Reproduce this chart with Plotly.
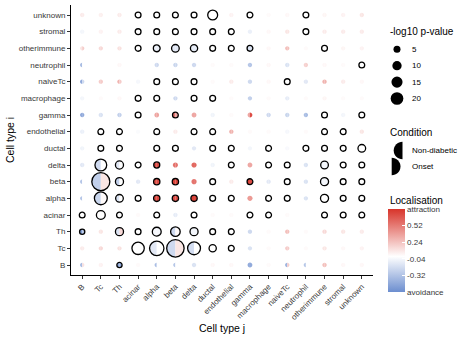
import math
import plotly.graph_objects as go
from plotly.colors import sample_colorscale

# ---------------- data ----------------
CELL_TYPES = ["B", "Tc", "Th", "acinar", "alpha", "beta", "delta", "ductal",
              "endothelial", "gamma", "macrophage", "naiveTc", "neutrophil",
              "otherimmune", "stromal", "unknown"]
ROWS_TOP_DOWN = list(reversed(CELL_TYPES))

# -log10 p-value per cell (rows top->bottom: unknown ... B ; columns B ... unknown)
PVAL = [
    [1, 1, 1, 5, 5, 5, 5, 15, 1, 5, 1, 1, 5, 1, 1, 1],        # unknown
    [1, 1, 1, 5, 5, 5, 5, 5, 5, 1, 1, 1, 5, 1, 1, 1],         # stromal
    [1, 1, 1, 5, 7, 9, 8, 5, 5, 5, 1, 1, 1, 5, 1, 1],         # otherimmune
    [1, 0.5, 1, 0.5, 1, 1, 1, 1, 1, 1, 1, 1, 1, 1, 1, 5],     # neutrophil
    [1, 1, 1, 1, 5, 5, 5, 1, 1, 1, 1, 5, 1, 1, 1, 1],         # naiveTc
    [1, 1, 1, 5, 5, 1, 5, 5, 1, 1, 1, 1, 1, 1, 1, 1],         # macrophage
    [1, 1, 1, 5, 1.5, 5, 1.5, 1, 1, 1.5, 1, 1, 1, 5, 1, 5],   # gamma
    [1, 5, 5, 1, 5, 1, 5, 5, 1, 1, 1, 1, 1, 5, 5, 1],         # endothelial
    [1, 5, 5, 0.5, 5, 5, 1, 5, 5, 1, 5, 1, 5, 5, 5, 9],       # ductal
    [1, 21, 10, 5, 5.5, 2, 2, 1, 5, 1.5, 5, 5, 1, 9, 5, 5],   # delta
    [1, 48, 10, 1, 6, 6, 2, 5, 1, 5, 1, 5, 1, 10, 5, 5],      # beta
    [1, 25, 9, 5, 6, 6, 6, 5, 5, 2, 5, 5, 1, 10, 5, 5],       # alpha
    [5, 12, 5, 1, 5, 1, 5, 1, 1, 5, 5, 1, 0.5, 5, 5, 5],      # acinar
    [4, 1, 10, 5, 12, 14, 10, 5, 5, 1, 1, 1, 1, 1, 1, 1],     # Th
    [1, 1, 1, 23, 31, 45, 25, 8, 5, 1, 1, 1, 1, 1, 1, 1],     # Tc
    [1, 1, 4, 1, 1, 1, 1, 1, 1, 1.5, 1, 1, 1, 1, 1, 1],       # B
]

# localisation score, Non-diabetic (left half)
LOC_ND = [
    [0.08, 0.06, 0.08, 0, 0, 0, 0, 0, 0.05, 0, 0.02, 0.03, 0, 0.04, 0.05, 0.1],
    [-0.05, 0.05, 0.08, 0, 0, 0, 0, 0, 0, -0.08, 0.03, 0.1, 0, 0.08, 0.08, 0.08],
    [0.1, 0.15, 0.12, 0, -0.08, -0.12, -0.1, 0, 0, -0.15, 0.03, 0.25, 0.02, 0, 0.04, 0.05],
    [-0.35, 0, 0.03, 0, -0.2, -0.22, -0.2, 0.02, 0.02, -0.3, 0.03, -0.15, 0.18, 0.03, 0.02, 0],
    [-0.45, 0.2, 0.3, -0.04, 0, 0, 0, 0.02, 0.08, -0.2, 0.03, 0, -0.12, 0.3, 0.08, 0.03],
    [-0.05, 0.02, 0.03, 0, 0, -0.2, 0, 0, 0.02, -0.25, 0.02, -0.1, 0.02, 0.04, 0.02, 0.02],
    [-0.45, -0.15, -0.25, 0, 0.35, 0.55, 0.35, -0.06, 0.02, 0.35, -0.2, -0.22, -0.35, 0, -0.05, 0],
    [-0.08, 0, 0, -0.02, 0, 0.08, 0, 0, 0.3, 0.02, 0.02, -0.04, 0.02, 0, 0, 0.1],
    [-0.06, 0, 0, 0, 0, 0, -0.12, 0, 0, -0.05, 0, -0.03, 0, 0, 0, 0],
    [-0.12, -0.2, -0.12, 0, 0.7, 0.55, 0.6, -0.06, 0, 0.35, 0, 0, -0.15, -0.05, 0, 0],
    [-0.3, -0.25, -0.25, -0.12, 0.7, 0.75, 0.55, 0, 0.08, 0.75, -0.12, 0, -0.15, -0.05, 0, 0],
    [-0.3, -0.22, -0.15, 0, 0.72, 0.7, 0.75, 0, 0, 0.4, 0, 0, -0.15, 0, 0, 0],
    [0, 0, 0, 0.02, 0, -0.1, 0, 0.02, 0.02, 0, 0, 0.02, 0, 0, 0, 0],
    [-0.5, 0.1, -0.15, 0, -0.04, -0.2, -0.05, 0, 0, -0.2, 0.02, 0.25, 0.02, 0.15, 0.1, 0.08],
    [0.08, 0.15, 0.12, 0, -0.12, -0.2, -0.18, 0, 0, -0.15, 0.02, 0.2, 0.02, 0.1, 0.03, 0.05],
    [-0.35, 0.05, -0.45, 0.02, -0.35, -0.3, -0.15, 0.03, 0.03, -0.45, 0.02, -0.4, -0.3, 0.25, 0.03, 0.03],
]

# localisation score, Onset (right half)
LOC_ONSET = [
    [0.08, 0.06, 0.08, 0, 0, 0, 0, 0, 0.05, 0, 0.02, 0.03, 0, 0.04, 0.05, 0.1],
    [-0.05, 0.05, 0.08, 0, 0, 0, 0, 0, 0, -0.08, 0.03, 0.1, 0, 0.08, 0.08, 0.08],
    [0.2, 0.15, 0.12, 0, -0.08, -0.12, -0.1, 0, 0, -0.15, 0.03, 0.25, 0.02, 0, 0.04, 0.05],
    [0, 0, 0.03, 0, -0.2, -0.22, -0.2, 0.02, 0.02, -0.3, 0.03, -0.15, 0.18, 0.03, 0.02, 0],
    [-0.2, 0.2, 0.2, -0.04, 0, 0, 0, 0.02, 0.08, -0.2, 0.03, 0, -0.12, 0.3, 0.08, 0.03],
    [-0.05, 0.02, 0.03, 0, 0, -0.2, 0, 0, 0.02, -0.25, 0.02, -0.1, 0.02, 0.04, 0.02, 0.02],
    [-0.45, -0.15, -0.25, 0, 0.35, 0.35, 0.35, -0.06, 0.02, 0.7, -0.2, -0.22, -0.35, 0, -0.05, 0],
    [-0.08, 0, 0, -0.02, 0, 0.08, 0, 0, 0.3, 0.02, 0.02, -0.04, 0.02, 0, 0, 0.1],
    [-0.06, 0, 0, 0, 0, 0, -0.12, 0, 0, -0.05, 0, -0.03, 0, 0, 0, 0],
    [-0.12, 0, 0, 0, 0.7, 0.55, 0.6, -0.06, 0, 0.35, 0, 0, -0.15, -0.05, 0, 0],
    [0, 0.1, 0, -0.12, 0.7, 0.75, 0.55, 0, 0.08, 0.7, -0.12, 0, -0.15, -0.05, 0, 0],
    [0, 0.02, 0, 0, 0.72, 0.7, 0.75, 0, 0, 0.4, 0, 0, -0.15, 0, 0, 0],
    [0, 0, 0, 0.02, 0, -0.1, 0, 0.02, 0.02, 0, 0, 0.02, 0, 0, 0, 0],
    [-0.3, 0.1, 0.15, 0, -0.04, 0.02, -0.05, 0, 0, -0.2, 0.02, 0.25, 0.02, 0.15, 0.1, 0.08],
    [0.08, 0.15, 0.12, 0, 0, 0.1, 0, 0, 0, -0.15, 0.02, 0.2, 0.02, 0.1, 0.03, 0.05],
    [0.12, 0.05, -0.45, 0.02, 0, 0, -0.15, 0.03, 0.03, -0.45, 0.02, 0.2, 0, 0.25, 0.03, 0.03],
]

SIZE_LEGEND = [5, 10, 15, 20]
CONDITIONS = ["Non-diabetic", "Onset"]
LOC_TICKVALS = [-0.6, -0.32, -0.04, 0.24, 0.52, 0.8]
LOC_TICKTEXT = ["avoidance", "-0.32", "-0.04", "0.24", "0.52", "attraction"]
CMIN, CMAX = -0.6, 0.8
SIG_LEVEL = 3

# ---------------- styling ----------------
W, H = 474, 338
ML, MR, MT, MB = 71, 101, 5, 63
PW, PH = W - ML - MR, H - MT - MB
FONT = "Liberation Sans, Arial, sans-serif"
TICK_COLOR = "#383838"
MID = (0 - CMIN) / (CMAX - CMIN)
COLORSCALE = [[0, "rgb(108,142,207)"], [MID, "rgb(255,255,255)"], [1, "rgb(216,52,42)"]]


def loc_color(v):
    t = min(max((v - CMIN) / (CMAX - CMIN), 0), 1)
    return sample_colorscale(COLORSCALE, [t])[0]


def diam(p):
    return math.sqrt(11.7 + 7.47 * p)


def half_path(r, side):
    s = -1 if side == "left" else 1
    k = 0.5523 * r
    return (f"M 0,{r:.2f} C {s*k:.2f},{r:.2f} {s*r:.2f},{k:.2f} {s*r:.2f},0 "
            f"C {s*r:.2f},{-k:.2f} {s*k:.2f},{-r:.2f} 0,{-r:.2f} Z")


def pxx(px):
    return (px - ML) / PW


def pxy(py):
    return (H - MB - py) / PH


shapes = []
xs, ys, cs = [], [], []
n = len(CELL_TYPES)
for ri, row in enumerate(ROWS_TOP_DOWN):
    yv = n - ri
    for ci, col in enumerate(CELL_TYPES):
        xv = ci + 1
        p = PVAL[ri][ci]
        r = diam(p) / 2
        sig = p >= SIG_LEVEL
        rf = r - 0.6 if sig else r
        cl = loc_color(LOC_ND[ri][ci])
        cr = loc_color(LOC_ONSET[ri][ci])
        xs.append(xv); ys.append(yv); cs.append(LOC_ND[ri][ci])
        common = dict(xref="x", yref="y", xsizemode="pixel", ysizemode="pixel",
                      xanchor=xv, yanchor=yv, layer="above")
        shapes.append(dict(type="path", path=half_path(rf, "left"), fillcolor=cl,
                           line=dict(width=0), **common))
        shapes.append(dict(type="path", path=half_path(rf, "right"), fillcolor=cr,
                           line=dict(width=0), **common))
        if sig:
            shapes.append(dict(type="circle", x0=-rf, x1=rf, y0=-rf, y1=rf,
                               fillcolor="rgba(0,0,0,0)",
                               line=dict(color="black", width=1.3), **common))

annotations = []

# size legend
annotations.append(dict(text="-log10 p-value", x=pxx(388), y=pxy(32), xref="paper", yref="paper",
                        xanchor="left", yanchor="middle", showarrow=False,
                        font=dict(family=FONT, size=10, color="black")))
for i, v in enumerate(SIZE_LEGEND):
    cy = 49.3 + i * 16.4
    r = diam(v) / 2
    shapes.append(dict(type="circle", xref="paper", yref="paper", xsizemode="pixel",
                       ysizemode="pixel", xanchor=pxx(397), yanchor=pxy(cy),
                       x0=-r, x1=r, y0=-r, y1=r, fillcolor="black", line=dict(width=0)))
    annotations.append(dict(text=str(v), x=pxx(410), y=pxy(cy), xref="paper", yref="paper",
                            xanchor="left", yanchor="middle", showarrow=False,
                            font=dict(family=FONT, size=8, color="black")))

# condition legend
annotations.append(dict(text="Condition", x=pxx(388), y=pxy(132), xref="paper", yref="paper",
                        xanchor="left", yanchor="middle", showarrow=False,
                        font=dict(family=FONT, size=10, color="black")))
for i, (cond, side, cx) in enumerate(zip(CONDITIONS, ["left", "right"], [402.5, 391.7])):
    cy = 150.5 + i * 16
    shapes.append(dict(type="path", xref="paper", yref="paper", xsizemode="pixel",
                       ysizemode="pixel", xanchor=pxx(cx), yanchor=pxy(cy),
                       path=half_path(8.8, side), fillcolor="black", line=dict(width=0)))
    annotations.append(dict(text=cond, x=pxx(410), y=pxy(cy), xref="paper", yref="paper",
                            xanchor="left", yanchor="middle", showarrow=False,
                            font=dict(family=FONT, size=8, color="black")))

annotations.append(dict(text="Localisation", x=pxx(388), y=pxy(201), xref="paper", yref="paper",
                        xanchor="left", yanchor="middle", showarrow=False,
                        font=dict(family=FONT, size=10, color="black")))

# axis titles
annotations.append(dict(text="Cell type j", x=0.5, y=pxy(328), xref="paper", yref="paper",
                        xanchor="center", yanchor="middle", showarrow=False,
                        font=dict(family=FONT, size=10.5, color="black")))
annotations.append(dict(text="Cell type i", x=pxx(10), y=pxy(140), xref="paper", yref="paper",
                        xanchor="center", yanchor="middle", showarrow=False, textangle=-90,
                        font=dict(family=FONT, size=10.5, color="black")))

fig = go.Figure()
fig.add_trace(go.Scatter(
    x=xs, y=ys, mode="markers", hoverinfo="skip", showlegend=False,
    marker=dict(size=1, opacity=0, color=cs, colorscale=COLORSCALE, cmin=CMIN, cmax=CMAX,
                showscale=True,
                colorbar=dict(x=pxx(388), xanchor="left", y=pxy(250.5), yanchor="middle",
                              len=83, lenmode="pixels", thickness=17, thicknessmode="pixels",
                              outlinewidth=0, xpad=0, ypad=0, ticks="inside", ticklen=3,
                              tickcolor="white", tickvals=LOC_TICKVALS, ticktext=LOC_TICKTEXT,
                              tickfont=dict(family=FONT, size=8, color=TICK_COLOR))),
))

fig.update_layout(
    width=W, height=H,
    margin=dict(l=ML, r=MR, t=MT, b=MB, pad=0),
    paper_bgcolor="white", plot_bgcolor="white",
    showlegend=False,
    shapes=shapes, annotations=annotations,
    font=dict(family=FONT),
    xaxis=dict(range=[0.4, n + 0.6], tickmode="array", tickvals=list(range(1, n + 1)),
               ticktext=CELL_TYPES, tickangle=-45, showgrid=False, zeroline=False,
               showline=True, linecolor="black", linewidth=1, ticks="outside", ticklen=3,
               tickcolor="#333333", tickfont=dict(family=FONT, size=8, color=TICK_COLOR),
               fixedrange=True),
    yaxis=dict(range=[0.4, n + 0.6], tickmode="array", tickvals=list(range(1, n + 1)),
               ticktext=CELL_TYPES, showgrid=False, zeroline=False,
               showline=True, linecolor="black", linewidth=1, ticks="outside", ticklen=3,
               tickcolor="#333333", tickfont=dict(family=FONT, size=8, color=TICK_COLOR),
               fixedrange=True),
)

fig.write_html("out.html")
